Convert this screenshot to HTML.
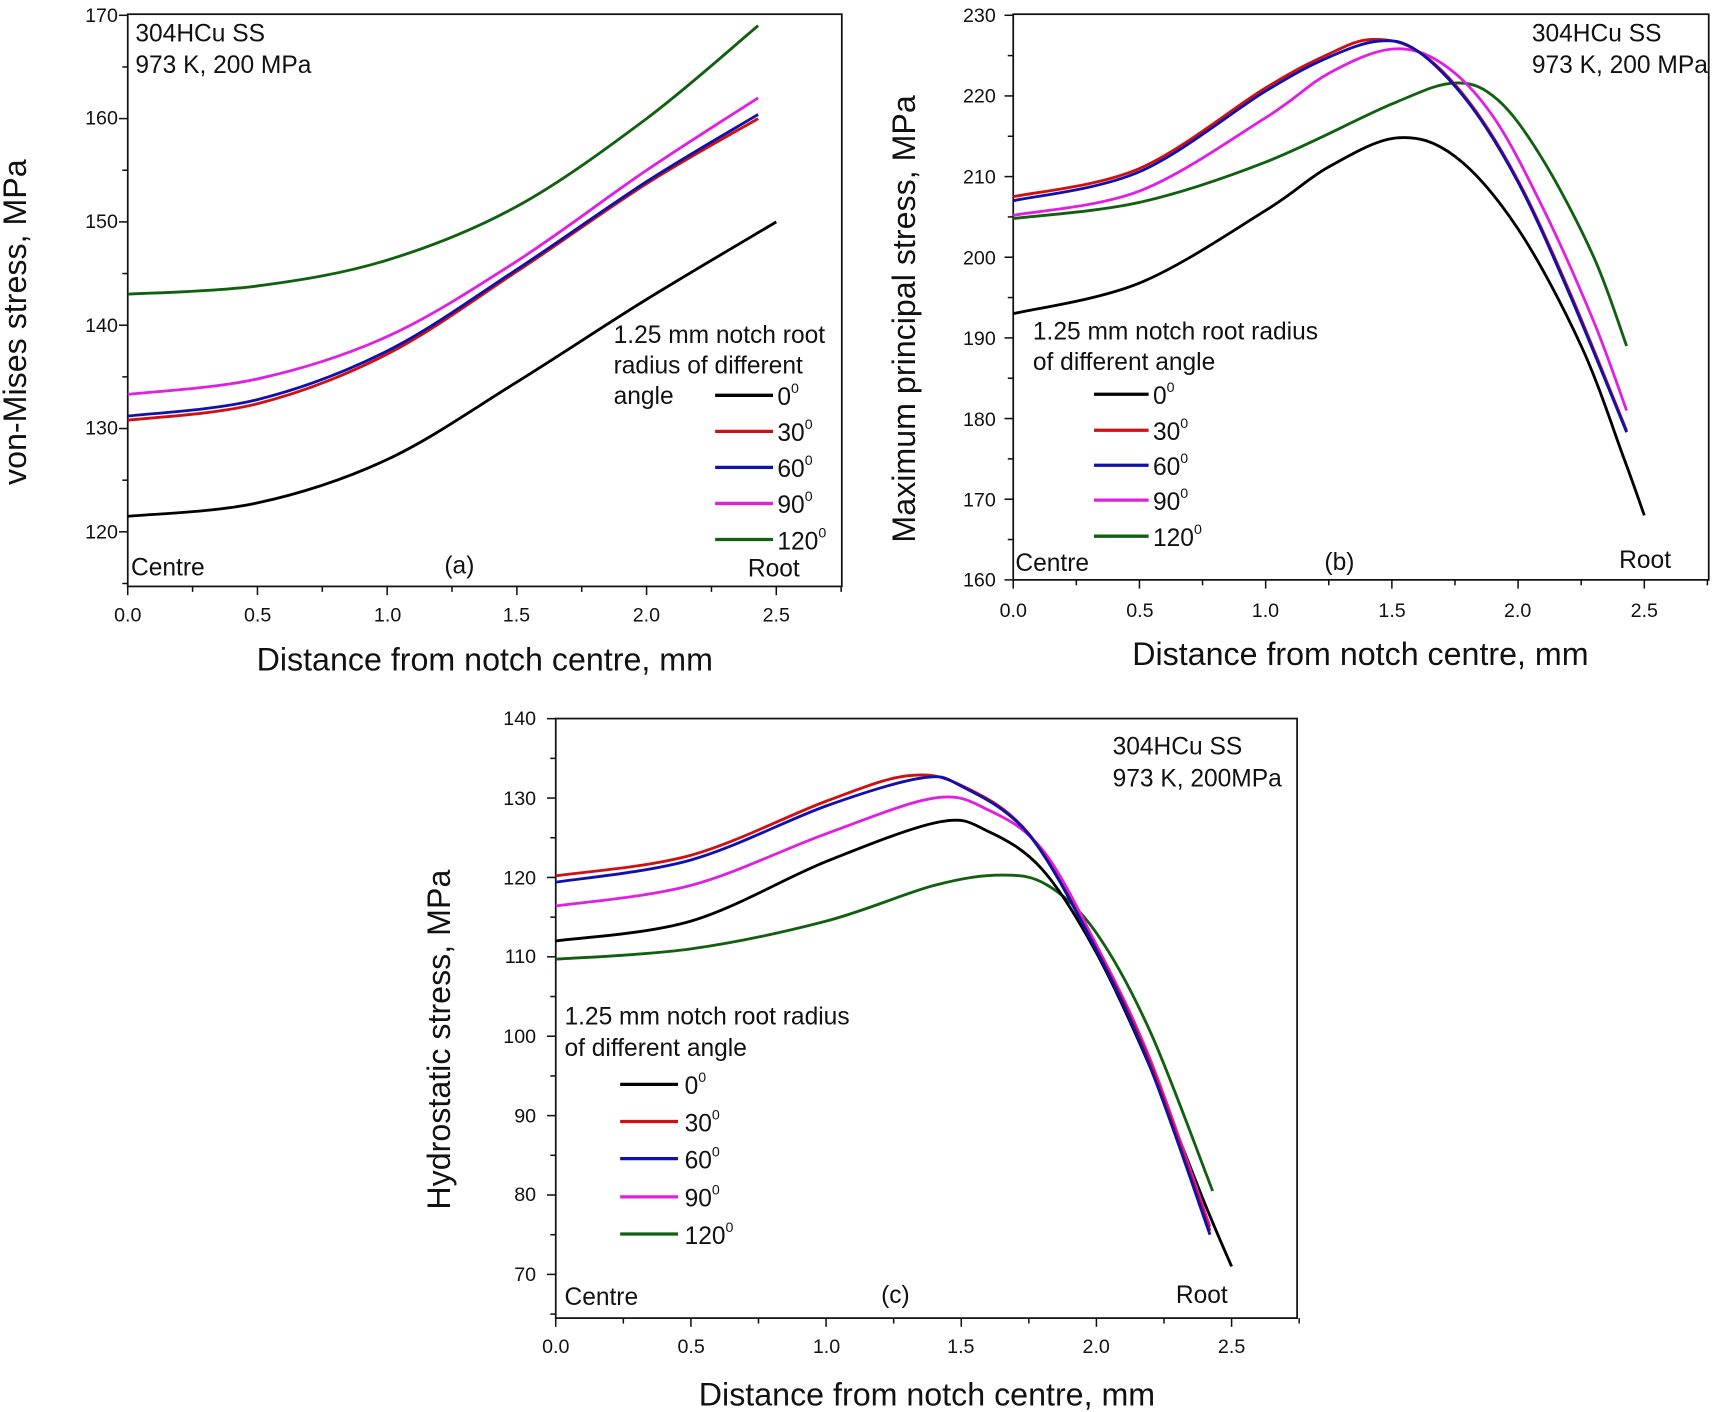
<!DOCTYPE html>
<html><head><meta charset="utf-8">
<style>
html,body{margin:0;padding:0;background:#fff;}
svg{display:block;}
text{font-family:"Liberation Sans",Arial,sans-serif;fill:#111;}
.t{font-size:18px;}
.a{font-size:29.5px;}
.n{font-size:22.5px;}
.s{font-size:13px;}
</style></head><body>
<svg id="s" width="1712" height="1412" viewBox="0 0 1568 1293" preserveAspectRatio="none" xmlns="http://www.w3.org/2000/svg">
<g id="g"></g>
<!-- Panel A texts -->
<g class="t" text-anchor="middle">
<text x="117" y="569">0.0</text><text x="236" y="569">0.5</text><text x="355" y="569">1.0</text><text x="473" y="569">1.5</text><text x="592" y="569">2.0</text><text x="711" y="569">2.5</text>
</g>
<g class="t" text-anchor="end">
<text x="108" y="20">170</text><text x="108" y="114">160</text><text x="108" y="209">150</text><text x="108" y="304">140</text><text x="108" y="398">130</text><text x="108" y="493">120</text>
</g>
<text class="a" x="444" y="614" text-anchor="middle">Distance from notch centre, mm</text>
<text class="a" transform="translate(24,295) rotate(-90)" text-anchor="middle">von-Mises stress, MPa</text>
<text class="n" x="124" y="38">304HCu SS</text><text class="n" x="124" y="67">973 K, 200 MPa</text>
<text class="n" x="562" y="314">1.25 mm notch root</text><text class="n" x="562" y="342">radius of different</text><text class="n" x="562" y="370">angle</text>
<text class="n" x="712" y="371">0<tspan class="s" dy="-11">0</tspan></text>
<text class="n" x="712" y="404">30<tspan class="s" dy="-11">0</tspan></text>
<text class="n" x="712" y="437">60<tspan class="s" dy="-11">0</tspan></text>
<text class="n" x="712" y="470">90<tspan class="s" dy="-11">0</tspan></text>
<text class="n" x="712" y="503">120<tspan class="s" dy="-11">0</tspan></text>
<text class="n" x="120" y="527">Centre</text><text class="n" x="407" y="525">(a)</text><text class="n" x="685" y="528">Root</text>

<!-- Panel B texts -->
<g class="t" text-anchor="middle">
<text x="928" y="565">0.0</text><text x="1044" y="565">0.5</text><text x="1159" y="565">1.0</text><text x="1275" y="565">1.5</text><text x="1390" y="565">2.0</text><text x="1506" y="565">2.5</text>
</g>
<g class="t" text-anchor="end">
<text x="912" y="20">230</text><text x="912" y="94">220</text><text x="912" y="168">210</text><text x="912" y="242">200</text><text x="912" y="316">190</text><text x="912" y="390">180</text><text x="912" y="464">170</text><text x="912" y="537">160</text>
</g>
<text class="a" x="1246" y="609" text-anchor="middle">Distance from notch centre, mm</text>
<text class="a" transform="translate(838,292) rotate(-90)" text-anchor="middle">Maximum principal stress, MPa</text>
<text class="n" x="1403" y="38">304HCu SS</text><text class="n" x="1403" y="67">973 K, 200 MPa</text>
<text class="n" x="946" y="311">1.25 mm notch root radius</text><text class="n" x="946" y="339">of different angle</text>
<text class="n" x="1056" y="370">0<tspan class="s" dy="-11">0</tspan></text>
<text class="n" x="1056" y="403">30<tspan class="s" dy="-11">0</tspan></text>
<text class="n" x="1056" y="435">60<tspan class="s" dy="-11">0</tspan></text>
<text class="n" x="1056" y="467">90<tspan class="s" dy="-11">0</tspan></text>
<text class="n" x="1056" y="500">120<tspan class="s" dy="-11">0</tspan></text>
<text class="n" x="930" y="523">Centre</text><text class="n" x="1213" y="522">(b)</text><text class="n" x="1483" y="520">Root</text>

<!-- Panel C texts -->
<g class="t" text-anchor="middle">
<text x="509" y="1239">0.0</text><text x="633" y="1239">0.5</text><text x="757" y="1239">1.0</text><text x="880" y="1239">1.5</text><text x="1004" y="1239">2.0</text><text x="1128" y="1239">2.5</text>
</g>
<g class="t" text-anchor="end">
<text x="491" y="664">140</text><text x="491" y="737">130</text><text x="491" y="810">120</text><text x="491" y="882">110</text><text x="491" y="955">100</text><text x="491" y="1028">90</text><text x="491" y="1100">80</text><text x="491" y="1173">70</text>
</g>
<text class="a" x="849" y="1287" text-anchor="middle">Distance from notch centre, mm</text>
<text class="a" transform="translate(412,952) rotate(-90)" text-anchor="middle">Hydrostatic stress, MPa</text>
<text class="n" x="1019" y="691">304HCu SS</text><text class="n" x="1019" y="720">973 K, 200MPa</text>
<text class="n" x="517" y="938">1.25 mm notch root radius</text><text class="n" x="517" y="967">of different angle</text>
<text class="n" x="627" y="1002">0<tspan class="s" dy="-11">0</tspan></text>
<text class="n" x="627" y="1036">30<tspan class="s" dy="-11">0</tspan></text>
<text class="n" x="627" y="1070">60<tspan class="s" dy="-11">0</tspan></text>
<text class="n" x="627" y="1105">90<tspan class="s" dy="-11">0</tspan></text>
<text class="n" x="627" y="1139">120<tspan class="s" dy="-11">0</tspan></text>
<text class="n" x="517" y="1195">Centre</text><text class="n" x="807" y="1193">(c)</text><text class="n" x="1077" y="1193">Root</text>
</svg>
<script>
var NS="http://www.w3.org/2000/svg",G=document.getElementById("g");
function el(n,a){var e=document.createElementNS(NS,n);for(var k in a)e.setAttribute(k,a[k]);G.appendChild(e);return e;}
var C={k:"#000",r:"#d01010",b:"#1010b0",m:"#e020e0",g:"#106010"};
function panel(P){
 var X=function(x){return P.x0+P.sx*x},Y=function(v){return P.yb-(v-P.vb)*P.sy};
 el("rect",{x:P.L,y:P.T,width:P.R-P.L,height:P.B-P.T,fill:"none",stroke:"#111","stroke-width":1.6});
 for(var x=0;x<=2.76;x+=0.25){var px=X(x);el("line",{x1:px,x2:px,y1:P.B,y2:P.B+(Math.abs(x*2-Math.round(x*2))<1e-6?8:5),stroke:"#111","stroke-width":1.4});}
 for(var v=P.vmin;v<=P.vmax;v+=5){var py=Y(v);if(py>P.B+1)continue;el("line",{x1:P.L,x2:P.L-(v%10==0?8:5),y1:py,y2:py,stroke:"#111","stroke-width":1.4});}
 P.series.forEach(function(s){
  var p=s[1].map(function(q){return [X(q[0]),Y(q[1])]});
  var d="M"+p[0][0]+","+p[0][1];
  for(var i=0;i<p.length-1;i++){var p0=p[i-1]||p[i],p1=p[i],p2=p[i+1],p3=p[i+2]||p2;
   d+=" C"+(p1[0]+(p2[0]-p0[0])/6)+","+(p1[1]+(p2[1]-p0[1])/6)+" "+(p2[0]-(p3[0]-p1[0])/6)+","+(p2[1]-(p3[1]-p1[1])/6)+" "+p2[0]+","+p2[1];}
  el("path",{d:d,fill:"none",stroke:C[s[0]],"stroke-width":2.6});
 });
 P.leg.forEach(function(l){el("line",{x1:P.lx1,x2:P.lx2,y1:l[1],y2:l[1],stroke:C[l[0]],"stroke-width":3});});
}
panel({L:117,R:771,T:13,B:537,x0:117,sx:237.6,yb:487,vb:120,sy:9.46,vmin:115,vmax:170,
 lx1:655,lx2:708,leg:[["k",362],["r",395],["b",428],["m",461],["g",494]],
 series:[
 ["k",[[0,121.5],[0.5,122.8],[1,127],[1.5,134.5],[2,142.5],[2.5,150]]],
 ["r",[[0,130.8],[0.5,132.4],[1,137.2],[1.5,145.2],[2,153.7],[2.43,160]]],
 ["b",[[0,131.2],[0.5,132.8],[1,137.5],[1.5,145.4],[2,153.9],[2.43,160.4]]],
 ["m",[[0,133.3],[0.5,134.8],[1,138.9],[1.5,146.2],[2,155],[2.43,162]]],
 ["g",[[0,143],[0.5,143.8],[1,146.3],[1.5,151.5],[2,160],[2.43,169]]]]});
panel({L:928,R:1565,T:13,B:531,x0:928,sx:231.2,yb:531,vb:160,sy:7.386,vmin:160,vmax:230,
 lx1:1002,lx2:1052,leg:[["k",361],["r",394],["b",426],["m",458],["g",491]],
 series:[
 ["k",[[0,193],[0.5,196.8],[1,205.8],[1.25,211.2],[1.52,214.8],[1.75,212.5],[2,203.5],[2.25,189],[2.42,175],[2.5,168]]],
 ["g",[[0,204.8],[0.5,206.8],[1,211.8],[1.5,219],[1.75,221.6],[1.92,219.5],[2.1,212],[2.3,200],[2.43,189]]],
 ["m",[[0,205.2],[0.5,208.2],[1,217.3],[1.25,222.8],[1.5,225.8],[1.7,224],[1.9,217.5],[2.1,206],[2.3,192],[2.43,181]]],
 ["r",[[0,207.5],[0.5,211],[1,221],[1.25,225.2],[1.42,227],[1.6,225.6],[1.8,219.5],[2,209.5],[2.2,196],[2.43,178.5]]],
 ["b",[[0,207],[0.5,210.6],[1,220.6],[1.25,224.8],[1.45,226.8],[1.6,225.6],[1.8,219.3],[2,209.3],[2.2,195.7],[2.43,178.3]]]]});
panel({L:509,R:1188,T:658,B:1207,x0:509,sx:247.6,yb:1167,vb:70,sy:7.27,vmin:65,vmax:140,
 lx1:568,lx2:621,leg:[["k",993],["r",1027],["b",1061],["m",1096],["g",1130]],
 series:[
 ["g",[[0,109.7],[0.5,111],[1,114.5],[1.4,119],[1.65,120.3],[1.82,119],[2,113],[2.2,100.5],[2.43,80.5]]],
 ["k",[[0,112],[0.5,114.5],[1,122],[1.42,127],[1.6,125.8],[1.8,121],[2,110.5],[2.2,96],[2.4,79],[2.5,71]]],
 ["m",[[0,116.4],[0.5,119],[1,125.5],[1.4,130],[1.6,128.5],[1.8,123.5],[2,111.5],[2.2,97],[2.42,76]]],
 ["r",[[0,120.2],[0.5,122.8],[1,129.6],[1.3,132.8],[1.5,131.6],[1.75,125.5],[2,111],[2.2,96.5],[2.42,75.5]]],
 ["b",[[0,119.4],[0.5,122.2],[1,129],[1.35,132.5],[1.5,131.5],[1.75,125.4],[2,110.8],[2.2,96],[2.42,75]]]]});
</script>
</body></html>
